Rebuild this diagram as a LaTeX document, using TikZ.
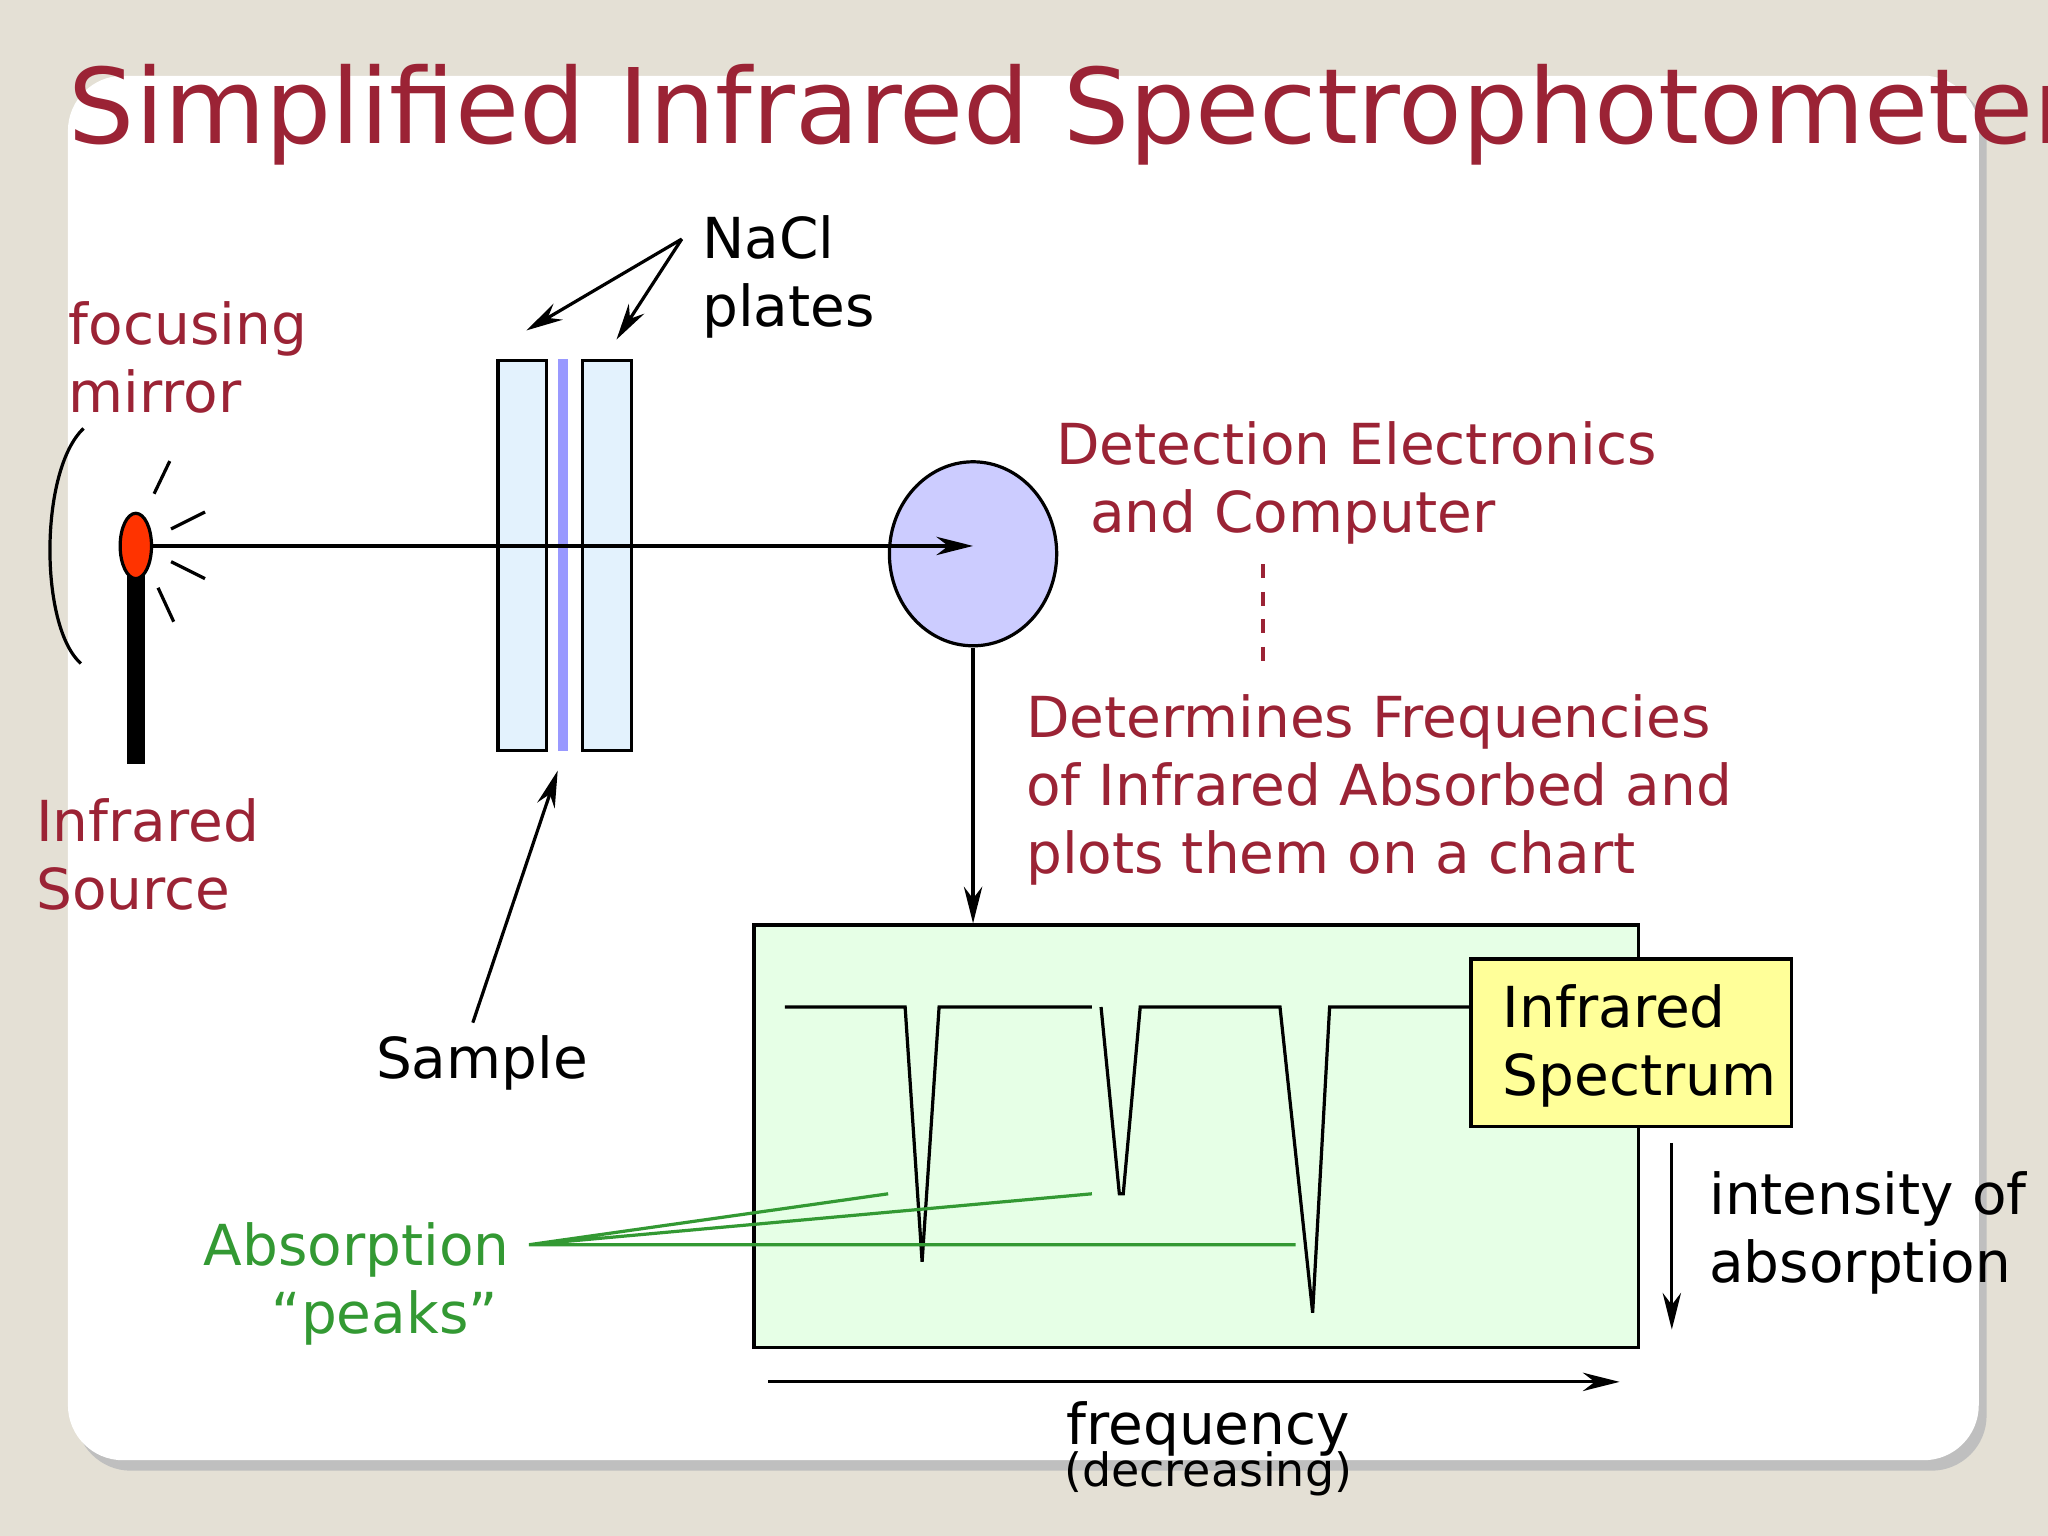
\documentclass[tikz,border=0pt]{standalone}
\usepackage{fontspec}
\setmainfont{DejaVu Sans}
\usetikzlibrary{arrows.meta,shapes.geometric}
\definecolor{dred}{HTML}{9B2335}
\definecolor{grn}{HTML}{339933}
\definecolor{bgc}{HTML}{E4E0D5}
\definecolor{srcc}{HTML}{FF3300}
\definecolor{platec}{HTML}{E3F2FD}
\definecolor{samplec}{HTML}{9999FF}
\definecolor{detc}{HTML}{CCCCFF}
\definecolor{chartc}{HTML}{E6FFE6}
\definecolor{yelc}{HTML}{FFFF99}
\begin{document}
\begin{tikzpicture}[x=0.01cm,y=-0.01cm,
  lab/.style={font=\fontsize{12.3}{14.8}\selectfont,inner sep=0pt},
  redlab/.style={lab,text=dred,align=left},
  arr/.style={-{Stealth[length=8pt,width=4pt]},line width=0.7pt}]
\useasboundingbox (0,0) rectangle (1568,1176);
\clip (0,0) rectangle (1568,1176);
\fill[bgc] (0,0) rectangle (1568,1176);
\fill[black!25,rounded corners=12] (58,64) rectangle (1521,1126);
\fill[white,rounded corners=12] (52,58) rectangle (1515,1118);
\node[anchor=base west,inner sep=0pt,text=dred,font=\fontsize{22.7}{26}\selectfont] (title) at (52,110) {Simplified Infrared Spectrophotometer};
% mirror
\draw[line width=0.7pt] (64,328) .. controls (30,360) and (30,480) .. (62,508);
% rays
\draw[line width=0.7pt] (118,378)--(130,353) (131,405)--(157,392) (131,430)--(157,443) (121,450)--(133,476);
\draw[line width=4pt] (104,440)--(104,585);
\node[draw,fill=srcc,ellipse,minimum width=0.24cm,minimum height=0.5cm,inner sep=0pt,line width=0.7pt] (src) at (104,418) {};
% plates
\node[draw,fill=platec,minimum width=0.37cm,minimum height=2.98cm,inner sep=0pt,anchor=north west,line width=0.7pt] (p1) at (380,275) {};
\node[draw,fill=platec,minimum width=0.37cm,minimum height=2.98cm,inner sep=0pt,anchor=north west,line width=0.7pt] (p2) at (445,275) {};
\fill[samplec] (427,275) rectangle (435,575);
\node[circle,draw,fill=detc,minimum size=1.28cm,inner sep=0pt,yscale=1.1,line width=0.7pt] (det) at (745,424) {};
\coordinate (bend) at (745,418);
\draw[arr] (src.east) -- (bend);
\node[lab,anchor=base west,align=left] (nacl) at (537,250) {NaCl\\plates};
\coordinate (nc) at (522,183);
\draw[arr] (nc) -- (403,253);
\draw[arr] (nc) -- (472,260);
\node[redlab,anchor=base west] (foc) at (52,316) {focusing\\mirror};
\node[redlab,anchor=base west] (isrc) at (27,696) {Infrared\\Source};
\node[lab,anchor=base] (sample) at (369,826) {Sample};
\draw[arr] (362,783) -- (427,590);
\node[redlab,anchor=base west] (de) at (808,408) {Detection Electronics\\\hspace*{0.6em}and Computer};
\draw[dred,dashed,line width=0.7pt] (967,432)--(967,510);
\node[redlab,anchor=base west] (detm) at (785,669) {Determines Frequencies\\of Infrared Absorbed and\\plots them on a chart};
% chart
\node[draw,fill=chartc,minimum width=6.77cm,minimum height=3.23cm,inner sep=0pt,anchor=north west,line width=0.7pt] (chart) at (576,707) {};
\draw[arr] (det.south) -- (chart.north -| det);
\draw[line width=0.7pt] (601,771)--(693,771)--(706,966)--(719,771)--(836,771) (843,771)--(857,914)--(860,914)--(873,771)--(980,771)--(1005,1005)--(1018,771)--(1125,771);
\node[draw,fill=yelc,minimum width=2.45cm,minimum height=1.28cm,inner sep=0pt,anchor=north west,line width=0.7pt] (ys) at (1125,733) {};
\node[lab,anchor=base west,align=left] (yst) at (1150,839) {Infrared\\Spectrum};
\draw[arr] (1280,875) -- (1280,1018);
\node[lab,anchor=base west,align=left] (int) at (1308,982) {intensity of\\absorption};
\draw[arr] (588,1058) -- (1240,1058);
\node[lab,anchor=base] (freq) at (925,1106) {frequency};
\node[inner sep=0pt,anchor=base,font=\fontsize{10}{12}\selectfont] (dec) at (925,1138) {(decreasing)};
\node[lab,text=grn,anchor=base,align=center] (abs) at (273,1021) {Absorption\\\hspace*{1em}“peaks”};
\coordinate (ap) at (405,953);
\draw[grn,line width=0.7pt] (ap)--(680,914) (ap)--(836,914) (ap)--(992,953);
\end{tikzpicture}
\end{document}
